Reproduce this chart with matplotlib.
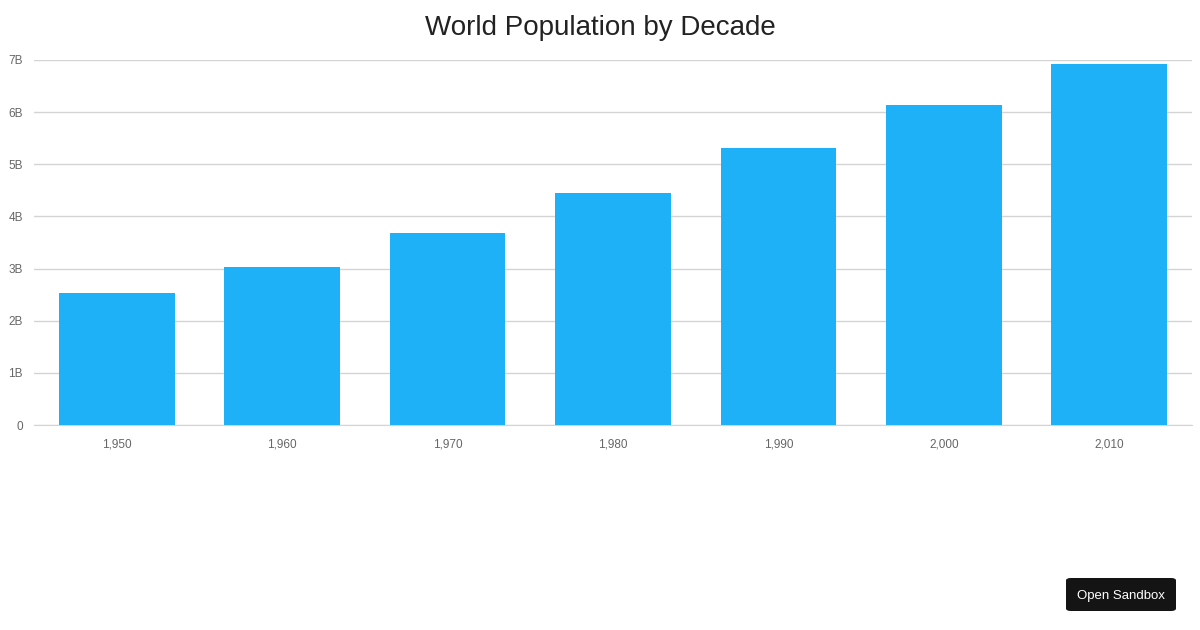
import matplotlib
matplotlib.use("Agg")
import matplotlib.pyplot as plt
from matplotlib.patches import FancyBboxPatch
from matplotlib.ticker import FuncFormatter

plt.rcParams['font.family'] = ['Liberation Sans', 'DejaVu Sans']

decades = [1950, 1960, 1970, 1980, 1990, 2000, 2010]
population = [2.53e9, 3.03e9, 3.69e9, 4.45e9, 5.31e9, 6.14e9, 6.92e9]
y_ticks = [0, 1e9, 2e9, 3e9, 4e9, 5e9, 6e9, 7e9]
title = "World Population by Decade"

fig = plt.figure(figsize=(12, 6.3), dpi=100)
ax = fig.add_axes([34/1200, 1-425/630, (1192-34)/1200, (425-60)/630])

x = list(range(len(decades)))
ax.bar(x, population, width=0.7, color='#1eb1f7', zorder=3)
ax.set_xlim(-0.5, len(decades) - 0.5)
ax.set_ylim(0, 7e9)
ax.set_xticks(x)
ax.set_xticklabels([f"{d:,}" for d in decades])
ax.set_yticks(y_ticks)
ax.yaxis.set_major_formatter(FuncFormatter(lambda v, p: "0" if v == 0 else f"{v/1e9:.0f}B"))
ax.grid(axis='y', color='#d4d4d4', linewidth=1, zorder=0)
for s in ['top', 'right', 'left']:
    ax.spines[s].set_visible(False)
ax.spines['bottom'].set_color('#d4d4d4')
ax.tick_params(axis='both', length=0, colors='#666666', labelsize=8.5)
ax.tick_params(axis='x', pad=10)
ax.tick_params(axis='y', pad=8)

fig.text(0.5, 1-28/630, title, ha='center', va='center', fontsize=20, color='#222222')

btn = FancyBboxPatch((1066/1200, 1-611/630), 110/1200, 33/630,
                     boxstyle="round,pad=0,rounding_size=0.004",
                     transform=fig.transFigure, facecolor='#141414', edgecolor='none')
fig.patches.append(btn)
fig.text(1121/1200, 1-595/630, "Open Sandbox", ha='center', va='center_baseline',
         fontsize=9.5, color='white')

fig.savefig("out.png", dpi=100)
